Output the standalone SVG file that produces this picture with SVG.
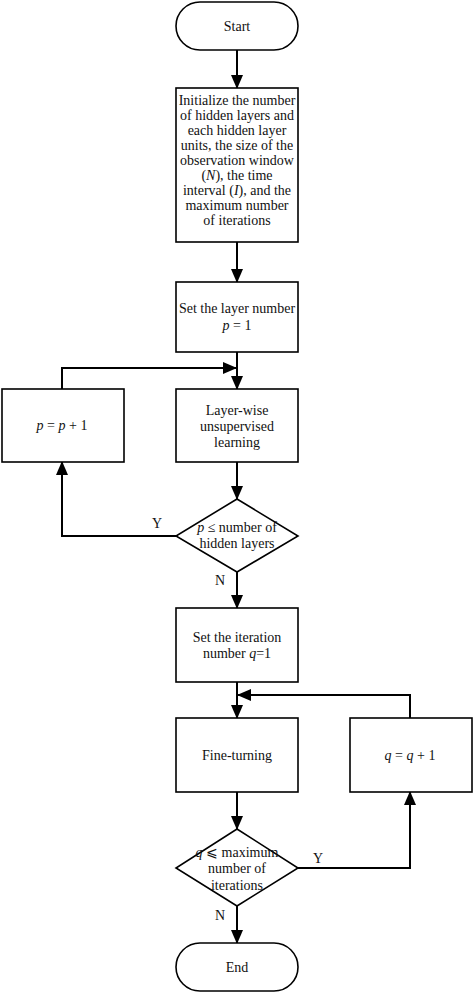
<svg xmlns="http://www.w3.org/2000/svg" width="474" height="994" viewBox="0 0 474 994">
<style>
.n{fill:#fff;stroke:#000;stroke-width:1.6}
.t{font-family:"Liberation Serif","Times New Roman",serif;font-size:14px;fill:#111;text-anchor:middle}
.i{font-style:italic}
.c{fill:none;stroke:#000;stroke-width:2}
</style>
<defs>
<marker id="a" markerUnits="userSpaceOnUse" markerWidth="14" markerHeight="12" refX="13" refY="6" orient="auto">
<path d="M0,0 L14,6 L0,12 Z" fill="#000"/>
</marker>
</defs>
<rect width="474" height="994" fill="#fff"/>
<g id="connectors">
<line class="c" x1="237" y1="50" x2="237" y2="88" marker-end="url(#a)"/>
<line class="c" x1="237" y1="242" x2="237" y2="282" marker-end="url(#a)"/>
<line class="c" x1="237" y1="352" x2="237" y2="389" marker-end="url(#a)"/>
<polyline class="c" points="62,389 62,368 236,368" marker-end="url(#a)"/>
<line class="c" x1="237" y1="462" x2="237" y2="499" marker-end="url(#a)"/>
<polyline class="c" points="176,536 62,536 62,462" marker-end="url(#a)"/>
<line class="c" x1="237" y1="572" x2="237" y2="608" marker-end="url(#a)"/>
<line class="c" x1="237" y1="682" x2="237" y2="718" marker-end="url(#a)"/>
<polyline class="c" points="410,718 410,695 238,695" marker-end="url(#a)"/>
<line class="c" x1="237" y1="792" x2="237" y2="829" marker-end="url(#a)"/>
<polyline class="c" points="298,868 410,868 410,792" marker-end="url(#a)"/>
<line class="c" x1="237" y1="906" x2="237" y2="943" marker-end="url(#a)"/>
<text class="t" x="157" y="528">Y</text>
<text class="t" x="220" y="585">N</text>
<text class="t" x="318" y="863">Y</text>
<text class="t" x="220" y="920">N</text>
</g>
<g id="start">
<rect class="n" x="176" y="2" width="122" height="48" rx="24"/>
<text class="t" x="237" y="31">Start</text>
</g>
<g id="init">
<rect class="n" x="176" y="88" width="122" height="154"/>
<text class="t" x="237" y="105">Initialize the number</text>
<text class="t" x="237" y="120">of hidden layers and</text>
<text class="t" x="237" y="135">each hidden layer</text>
<text class="t" x="237" y="150">units, the size of the</text>
<text class="t" x="237" y="165">observation window</text>
<text class="t" x="237" y="180">(<tspan class="i">N</tspan>), the time</text>
<text class="t" x="237" y="195">interval (<tspan class="i">I</tspan>), and the</text>
<text class="t" x="237" y="210">maximum number</text>
<text class="t" x="237" y="225">of iterations</text>
</g>
<g id="setlayer">
<rect class="n" x="176" y="282" width="122" height="70"/>
<text class="t" x="237" y="313">Set the layer number</text>
<text class="t" x="237" y="330"><tspan class="i">p</tspan> = 1</text>
</g>
<g id="pinc">
<rect class="n" x="2" y="389" width="122" height="73"/>
<text class="t" x="62" y="430"><tspan class="i">p</tspan> = <tspan class="i">p</tspan> + 1</text>
</g>
<g id="layerwise">
<rect class="n" x="176" y="389" width="122" height="73"/>
<text class="t" x="237" y="415">Layer-wise</text>
<text class="t" x="237" y="431">unsupervised</text>
<text class="t" x="237" y="447">learning</text>
</g>
<g id="dec1">
<polygon class="n" points="237,499 298,536 237,572 176,536"/>
<text class="t" x="237" y="532"><tspan class="i">p</tspan> ≤ number of</text>
<text class="t" x="237" y="548">hidden layers</text>
</g>
<g id="setiter">
<rect class="n" x="176" y="608" width="122" height="74"/>
<text class="t" x="237" y="642">Set the iteration</text>
<text class="t" x="237" y="658">number <tspan class="i">q</tspan>=1</text>
</g>
<g id="fine">
<rect class="n" x="176" y="718" width="122" height="74"/>
<text class="t" x="237" y="760">Fine-turning</text>
</g>
<g id="qinc">
<rect class="n" x="350" y="718" width="122" height="74"/>
<text class="t" x="410" y="760"><tspan class="i">q</tspan> = <tspan class="i">q</tspan> + 1</text>
</g>
<g id="dec2">
<polygon class="n" points="237,829 298,868 237,906 176,868"/>
<text class="t" x="237" y="857"><tspan class="i">q</tspan> ⩽ maximum</text>
<text class="t" x="237" y="873">number of</text>
<text class="t" x="237" y="890">iterations</text>
</g>
<g id="end">
<rect class="n" x="176" y="943" width="122" height="48" rx="24"/>
<text class="t" x="237" y="972">End</text>
</g>
</svg>
